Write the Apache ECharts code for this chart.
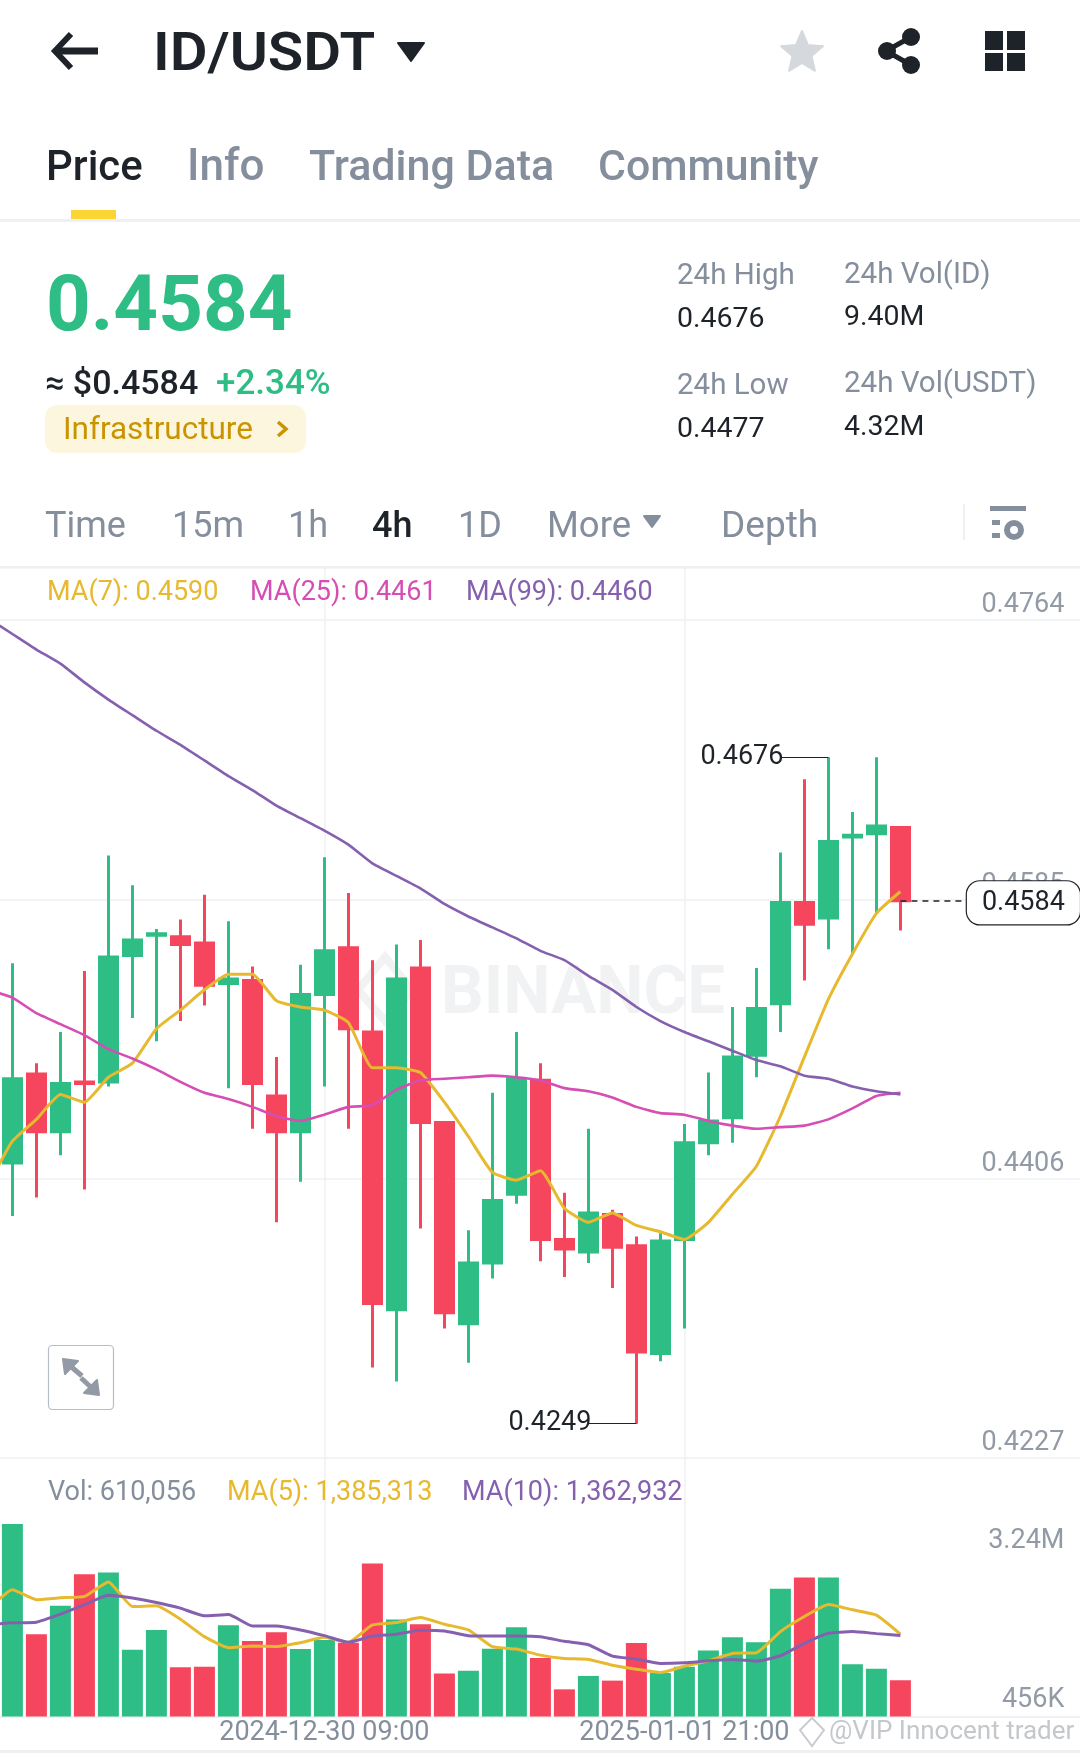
<!DOCTYPE html>
<html>
<head>
<meta charset="utf-8">
<title>ID/USDT</title>
<script src="https://cdn.jsdelivr.net/npm/echarts@6/dist/echarts.min.js"></script>
<style>
  html, body { margin: 0; padding: 0; background: #fff; }
  #chart { width: 1080px; height: 1753px; }
</style>
</head>
<body>
<div id="chart"></div>
<script>
// 4h candles, oldest first, then the empty slots on the right of the chart
const categories = [
  '2024-12-28 01:00', '2024-12-28 05:00', '2024-12-28 09:00', '2024-12-28 13:00', '2024-12-28 17:00',
  '2024-12-28 21:00', '2024-12-29 01:00', '2024-12-29 05:00', '2024-12-29 09:00', '2024-12-29 13:00',
  '2024-12-29 17:00', '2024-12-29 21:00', '2024-12-30 01:00', '2024-12-30 05:00', '2024-12-30 09:00',
  '2024-12-30 13:00', '2024-12-30 17:00', '2024-12-30 21:00', '2024-12-31 01:00', '2024-12-31 05:00',
  '2024-12-31 09:00', '2024-12-31 13:00', '2024-12-31 17:00', '2024-12-31 21:00', '2025-01-01 01:00',
  '2025-01-01 05:00', '2025-01-01 09:00', '2025-01-01 13:00', '2025-01-01 17:00', '2025-01-01 21:00',
  '2025-01-02 01:00', '2025-01-02 05:00', '2025-01-02 09:00', '2025-01-02 13:00', '2025-01-02 17:00',
  '2025-01-02 21:00', '2025-01-03 01:00', '2025-01-03 05:00', '2025-01-03 09:00',
  '2025-01-03 13:00', '2025-01-03 17:00', '2025-01-03 21:00', '2025-01-04 01:00', '2025-01-04 05:00',
  '2025-01-04 09:00', '2025-01-04 13:00', '2025-01-04 17:00'
];
const timeLabels = ['2024-12-30 09:00', '2025-01-01 21:00'];
const priceTicks = [0.4227, 0.4406, 0.4585, 0.4764];
const volumeTicks = [456000, 3240000];

// first category is the off-screen candle, only its MA values show
const open = ['-', 0.4416, 0.4473, 0.4436, 0.4468, 0.4468, 0.4549, 0.4562, 0.4561, 0.4557, 0.4531, 0.4533, 0.4459, 0.4436, 0.4524, 0.4554, 0.4500, 0.4322, 0.4541, 0.4442, 0.4313, 0.4352, 0.4396, 0.4469, 0.4367, 0.4359, 0.4383, 0.4363, 0.4294, 0.4367, 0.4429, 0.4445, 0.4485, 0.4518, 0.4583, 0.4573, 0.4625, 0.4627, 0.4631];
const close = ['-', 0.4470, 0.4436, 0.4467, 0.4467, 0.4548, 0.4559, 0.4563, 0.4556, 0.4530, 0.4534, 0.4467, 0.4436, 0.4524, 0.4552, 0.4502, 0.4326, 0.4534, 0.4442, 0.4320, 0.4352, 0.4392, 0.4470, 0.4367, 0.4361, 0.4384, 0.4362, 0.4295, 0.4366, 0.4429, 0.4443, 0.4484, 0.4515, 0.4583, 0.4569, 0.4622, 0.4626, 0.4632, 0.4584];
const low = ['-', 0.4382, 0.4394, 0.4421, 0.4399, 0.4465, 0.4509, 0.4494, 0.4507, 0.4517, 0.4464, 0.4438, 0.4378, 0.4404, 0.4465, 0.4438, 0.4285, 0.4276, 0.4374, 0.4310, 0.4288, 0.4342, 0.4390, 0.4353, 0.4343, 0.4352, 0.4336, 0.4249, 0.4289, 0.4310, 0.4421, 0.4429, 0.4471, 0.4500, 0.4533, 0.4553, 0.4550, 0.4576, 0.4565];
const high = ['-', 0.4544, 0.4480, 0.4500, 0.4539, 0.4613, 0.4594, 0.4566, 0.4572, 0.4588, 0.4571, 0.4542, 0.4484, 0.4543, 0.4612, 0.4589, 0.4546, 0.4556, 0.4559, 0.4443, 0.4373, 0.4461, 0.4500, 0.4480, 0.4397, 0.4438, 0.4386, 0.4369, 0.4371, 0.4441, 0.4474, 0.4516, 0.4541, 0.4615, 0.4662, 0.4676, 0.4641, 0.4676, 0.4631];

const ma7 = [0.4402, 0.4430, 0.4444, 0.4460, 0.4455, 0.4471, 0.4480, 0.4502, 0.4514, 0.4527, 0.4537, 0.4537, 0.4520, 0.4516, 0.4514, 0.4506, 0.4477, 0.4477, 0.4474, 0.4455, 0.4433, 0.4410, 0.4405, 0.4411, 0.4387, 0.4378, 0.4384, 0.4376, 0.4372, 0.4367, 0.4378, 0.4396, 0.4414, 0.4446, 0.4484, 0.4521, 0.4550, 0.4576, 0.4590];
const ma25 = [0.4527, 0.4522, 0.4512, 0.4505, 0.4498, 0.4489, 0.4483, 0.4476, 0.4468, 0.4461, 0.4457, 0.4452, 0.4446, 0.4443, 0.4447, 0.4452, 0.4453, 0.4463, 0.4469, 0.4470, 0.4471, 0.4472, 0.4471, 0.4469, 0.4464, 0.4462, 0.4458, 0.4452, 0.4448, 0.4447, 0.4443, 0.4440, 0.4438, 0.4439, 0.4440, 0.4444, 0.4451, 0.4459, 0.4461];
const ma99 = [0.4765, 0.4755, 0.4745, 0.4736, 0.4724, 0.4713, 0.4703, 0.4693, 0.4684, 0.4674, 0.4664, 0.4655, 0.4645, 0.4637, 0.4629, 0.4620, 0.4608, 0.4600, 0.4592, 0.4582, 0.4574, 0.4567, 0.4560, 0.4552, 0.4546, 0.4536, 0.4527, 0.4516, 0.4507, 0.4500, 0.4494, 0.4488, 0.4482, 0.4478, 0.4472, 0.4470, 0.4465, 0.4462, 0.4460];

const volume = ['-', 3240000, 1383000, 1863000, 2394000, 2423000, 1124000, 1457000, 830000, 836000, 1536000, 1271000, 1417000, 1135000, 1287000, 1242000, 2575000, 1632000, 1553000, 723000, 768000, 1141000, 1502000, 983000, 457000, 683000, 604000, 1237000, 734000, 836000, 1112000, 1333000, 1248000, 2151000, 2338000, 2338000, 881000, 802000, 610056];
const volMa5 = [1796000, 2135000, 1965000, 1999000, 2022000, 2264000, 1852000, 1864000, 1638000, 1344000, 1158000, 1186000, 1180000, 1242000, 1333000, 1248000, 1542000, 1581000, 1666000, 1553000, 1457000, 1175000, 1135000, 1033000, 977000, 960000, 864000, 796000, 740000, 847000, 937000, 1062000, 1073000, 1429000, 1683000, 1886000, 1796000, 1705000, 1385313];
const volMa10 = [1542000, 1576000, 1587000, 1722000, 1880000, 2039000, 1993000, 1920000, 1824000, 1694000, 1717000, 1525000, 1525000, 1457000, 1361000, 1248000, 1355000, 1384000, 1451000, 1440000, 1361000, 1355000, 1355000, 1344000, 1265000, 1208000, 1016000, 966000, 892000, 904000, 937000, 960000, 932000, 1022000, 1231000, 1400000, 1429000, 1395000, 1362932];

const UP = '#2EBD85', DOWN = '#F6465D', DARK = '#1E2329', GREY = '#848E9C', LINE = '#EEF0F2';
const MA_YELLOW = '#E6B92F', MA_PINK = '#D64DB4', MA_PURPLE = '#8560AE';
const FONT = 'Roboto';

function text(str, x, y, fill, size, weight, scaleX) {
  return {
    type: 'text', z: 1, x: x, y: y, scaleX: scaleX || 1,
    style: {
      text: str, x: 0, y: 0, fill: fill,
      font: (weight || 400) + ' ' + size + 'px ' + FONT,
      align: 'left', verticalAlign: 'middle'
    }
  };
}
function poly(points, fill) {
  return { type: 'polygon', z: 1, shape: { points: points }, style: { fill: fill, stroke: fill, lineWidth: 2, lineJoin: 'round' } };
}
function stroke(points, color, width) {
  return { type: 'polyline', z: 1, shape: { points: points }, style: { stroke: color, fill: null, lineWidth: width, lineCap: 'butt' } };
}
function rect(x, y, w, h, fill, r) {
  return { type: 'rect', z: 1, shape: { x: x, y: y, width: w, height: h, r: r || 0 }, style: { fill: fill } };
}
function dot(cx, cy, r, fill) {
  return { type: 'circle', z: 1, shape: { cx: cx, cy: cy, r: r }, style: { fill: fill } };
}
function starPoints(cx, cy, outer, inner) {
  const pts = [];
  for (let i = 0; i < 10; i++) {
    const r = i % 2 ? inner : outer;
    const a = -Math.PI / 2 + i * Math.PI / 5;
    pts.push([cx + r * Math.cos(a), cy + r * Math.sin(a)]);
  }
  return pts;
}

const chrome = [
  // header
  stroke([[71, 34], [55, 51], [71, 68]], DARK, 6),
  stroke([[56, 51], [98, 51]], DARK, 7),
  text('ID/USDT', 153, 56, DARK, 54, 600, 1.076),
  poly([[398, 43], [424, 43], [411, 61]], DARK),
  poly(starPoints(802, 53, 22, 10), '#D5D8DC'),
  stroke([[911, 37], [886, 51], [911, 65]], DARK, 5),
  dot(911, 37, 9, DARK), dot(887, 51, 9, DARK), dot(911, 65, 9, DARK),
  rect(985, 31, 18, 19, DARK), rect(1007, 31, 18, 19, DARK),
  rect(985, 53, 18, 18, DARK), rect(1007, 53, 18, 18, DARK),
  // tabs
  text('Price', 46, 169, DARK, 42, 500),
  text('Info', 187, 169, GREY, 44, 500),
  text('Trading Data', 309, 169, GREY, 43, 500),
  text('Community', 598, 169, GREY, 42.8, 500),
  rect(0, 219, 1080, 3, LINE),
  rect(71, 210, 45, 9, '#FCD535'),
  // price block
  text('0.4584', 46, 310, UP, 78, 700),
  text('≈ $0.4584', 45, 385, DARK, 34, 500),
  text('+2.34%', 216, 385, UP, 35, 500),
  rect(45, 405, 261, 48, '#FDF6DF', 12),
  text('Infrastructure', 63, 431, '#C99400', 31.5, 400),
  stroke([[278, 422], [286, 429], [278, 436]], '#C99400', 3.5),
  text('24h High', 677, 277, GREY, 29.5),
  text('0.4676', 677, 320, DARK, 28.5),
  text('24h Low', 677, 387, GREY, 29.5),
  text('0.4477', 677, 430, DARK, 28.5),
  text('24h Vol(ID)', 844, 276, GREY, 29.5),
  text('9.40M', 844, 318, DARK, 28.5),
  text('24h Vol(USDT)', 844, 385, GREY, 29.5),
  text('4.32M', 844, 428, DARK, 28.5),
  // interval bar
  text('Time', 45, 528, GREY, 36),
  text('15m', 172, 528, GREY, 36),
  text('1h', 288, 528, GREY, 36),
  text('4h', 372, 528, DARK, 36, 500),
  text('1D', 458, 528, GREY, 36),
  text('More', 547, 528, GREY, 36.5),
  poly([[644, 516], [660, 516], [652, 527]], GREY),
  text('Depth', 721, 528, GREY, 37),
  rect(963, 504, 2, 36, LINE),
  rect(990, 506, 36, 5, GREY),
  rect(992, 520, 8, 5, GREY), rect(992, 533, 8, 5, GREY),
  { type: 'circle', z: 1, shape: { cx: 1014, cy: 530, r: 7 }, style: { fill: '#fff', stroke: GREY, lineWidth: 6 } },
  rect(0, 566, 1080, 2, LINE),
  // legends
  text('MA(7): 0.4590', 47, 593, MA_YELLOW, 27),
  text('MA(25): 0.4461', 250, 593, MA_PINK, 27),
  text('MA(99): 0.4460', 466, 593, MA_PURPLE, 27),
  text('Vol: 610,056', 48, 1493, GREY, 27),
  text('MA(5): 1,385,313', 227, 1493, MA_YELLOW, 27),
  text('MA(10): 1,362,932', 462, 1493, MA_PURPLE, 27),
  // expand button
  { type: 'rect', z: 1, shape: { x: 48.5, y: 1345.5, width: 65, height: 64, r: 4 }, style: { fill: '#fff', stroke: '#B7BDC6', lineWidth: 1.2 } },
  poly([[63, 1359], [78, 1361], [65, 1374]], '#929AA5'),
  stroke([[68, 1364], [82, 1376]], '#929AA5', 5),
  poly([[99, 1395], [84, 1393], [97, 1380]], '#929AA5'),
  stroke([[94, 1390], [81, 1378]], '#929AA5', 5),
  // watermarks
  { type: 'polygon', z: 0, shape: { points: [[385, 957], [412, 990], [385, 1021], [358, 990]] }, style: { fill: null, stroke: '#F1F2F3', lineWidth: 8 } },
  { type: 'text', z: 0, x: 441, y: 996, style: { text: 'BINANCE', x: 0, y: 0, fill: '#F1F2F3', font: '700 67px ' + FONT, align: 'left', verticalAlign: 'middle' } },
  { type: 'polygon', z: 1, shape: { points: [[812, 1718], [824, 1730], [812, 1746], [800, 1730]] }, style: { fill: null, stroke: '#C9CCD1', lineWidth: 2 } },
  text('@VIP Innocent trader', 829, 1732, '#C4C7CC', 26),
  rect(0, 1750, 1080, 3, LINE)
];

const chart = echarts.init(document.getElementById('chart'));

function axisX(gridIndex, showLabel) {
  return {
    type: 'category',
    gridIndex: gridIndex,
    data: categories,
    boundaryGap: false,
    axisLine: { show: showLabel, lineStyle: { color: LINE, width: 2 } },
    axisTick: { show: false },
    axisLabel: {
      show: showLabel,
      margin: 3,
      color: GREY,
      fontFamily: FONT,
      fontSize: 27,
      interval: function (index, value) { return timeLabels.indexOf(value) >= 0; }
    },
    splitLine: {
      show: true,
      lineStyle: { color: '#F0F1F3', width: 1.5 },
      interval: function (index, value) { return timeLabels.indexOf(value) >= 0; }
    }
  };
}

function maLine(name, data, color, xAxisIndex, yAxisIndex, width) {
  return {
    name: name,
    type: 'line',
    xAxisIndex: xAxisIndex,
    yAxisIndex: yAxisIndex,
    data: data,
    symbol: 'none',
    smooth: 0.15,
    silent: true,
    lineStyle: { color: color, width: width },
    z: 4
  };
}

const option = {
  animation: false,
  backgroundColor: '#fff',
  textStyle: { fontFamily: FONT },
  graphic: { elements: chrome },
  grid: [
    { left: -11.6, width: 1104, top: 568, height: 890, outerBoundsMode: 'none' },
    { left: -11.6, width: 1104, top: 1458, height: 258.5, outerBoundsMode: 'none' }
  ],
  xAxis: [axisX(0, false), axisX(1, true)],
  yAxis: [
    {
      type: 'value',
      gridIndex: 0,
      position: 'right',
      min: 0.4227,
      max: 0.47973,
      axisLine: { show: false },
      axisTick: { show: false, customValues: priceTicks.concat([0.47973]) },
      axisLabel: {
        inside: true,
        margin: 28,
        customValues: priceTicks,
        color: '#929AA5',
        fontFamily: FONT,
        fontSize: 27,
        verticalAlign: 'bottom',
        padding: [0, 0, 1, 0],
        formatter: function (v) { return v.toFixed(4); }
      },
      splitLine: { show: true, lineStyle: { color: LINE, width: 1.5 } }
    },
    {
      type: 'value',
      gridIndex: 1,
      position: 'right',
      min: 0,
      max: 4351000,
      axisLine: { show: false },
      axisTick: { show: false, customValues: volumeTicks },
      axisLabel: {
        inside: true,
        margin: 28,
        customValues: volumeTicks,
        color: '#929AA5',
        fontFamily: FONT,
        fontSize: 27,
        verticalAlign: 'middle',
        formatter: function (v) { return v >= 1000000 ? '{hi|' + (v / 1000000).toFixed(2) + 'M}' : '{lo|' + Math.round(v / 1000) + 'K}'; },
        rich: {
          hi: { color: '#929AA5', fontFamily: FONT, fontSize: 27, padding: [35, 0, 0, 0] },
          lo: { color: '#929AA5', fontFamily: FONT, fontSize: 27, padding: [21, 0, 0, 0] }
        }
      },
      splitLine: { show: false }
    }
  ],
  series: [
    {
      name: 'ID/USDT',
      type: 'candlestick',
      xAxisIndex: 0,
      yAxisIndex: 0,
      barWidth: 18,
      data: open.map(function (o, i) { return [o, close[i], low[i], high[i]]; }),
      itemStyle: { color: UP, color0: DOWN, borderColor: UP, borderColor0: DOWN, borderWidth: 3 },
      z: 3,
      markLine: {
        silent: true,
        symbol: 'none',
        animation: false,
        lineStyle: { color: DARK, width: 1.2, type: 'solid' },
        label: { color: DARK, fontFamily: FONT, fontSize: 27, position: 'start', distance: -3 },
        data: [
          [{ coord: [33, 0.4676], label: { formatter: '0.4676' } }, { coord: [35, 0.4676] }],
          [{ coord: [25, 0.4249], label: { formatter: '0.4249' } }, { coord: [27, 0.4249] }],
          [{ coord: [38, 0.4584], label: { show: false }, lineStyle: { type: [6, 5], width: 1.5 } }, { coord: [41, 0.4584] }]
        ]
      },
      markPoint: {
        silent: true,
        symbol: 'circle',
        symbolSize: 1,
        itemStyle: { color: 'transparent' },
        animation: false,
        data: [{ coord: [43, 0.4584], value: '0.4584' }],
        label: {
          show: true,
          position: 'inside',
          offset: [3, 2],
          formatter: '0.4584',
          color: DARK,
          fontFamily: FONT,
          fontSize: 27,
          backgroundColor: '#fff',
          borderColor: DARK,
          borderWidth: 1.2,
          borderRadius: 13,
          padding: [9, 15, 7, 15]
        }
      }
    },
    maLine('MA7', ma7, MA_YELLOW, 0, 0, 3),
    maLine('MA25', ma25, MA_PINK, 0, 0, 2.6),
    maLine('MA99', ma99, MA_PURPLE, 0, 0, 2.6),
    {
      name: 'Vol',
      type: 'bar',
      xAxisIndex: 1,
      yAxisIndex: 1,
      barWidth: 21,
      z: 3,
      data: volume.map(function (v, i) {
        return { value: v, itemStyle: { color: close[i] >= open[i] ? UP : DOWN } };
      })
    },
    maLine('Vol MA5', volMa5, MA_YELLOW, 1, 1, 3),
    maLine('Vol MA10', volMa10, MA_PURPLE, 1, 1, 3)
  ]
};

chart.setOption(option);
</script>
</body>
</html>
